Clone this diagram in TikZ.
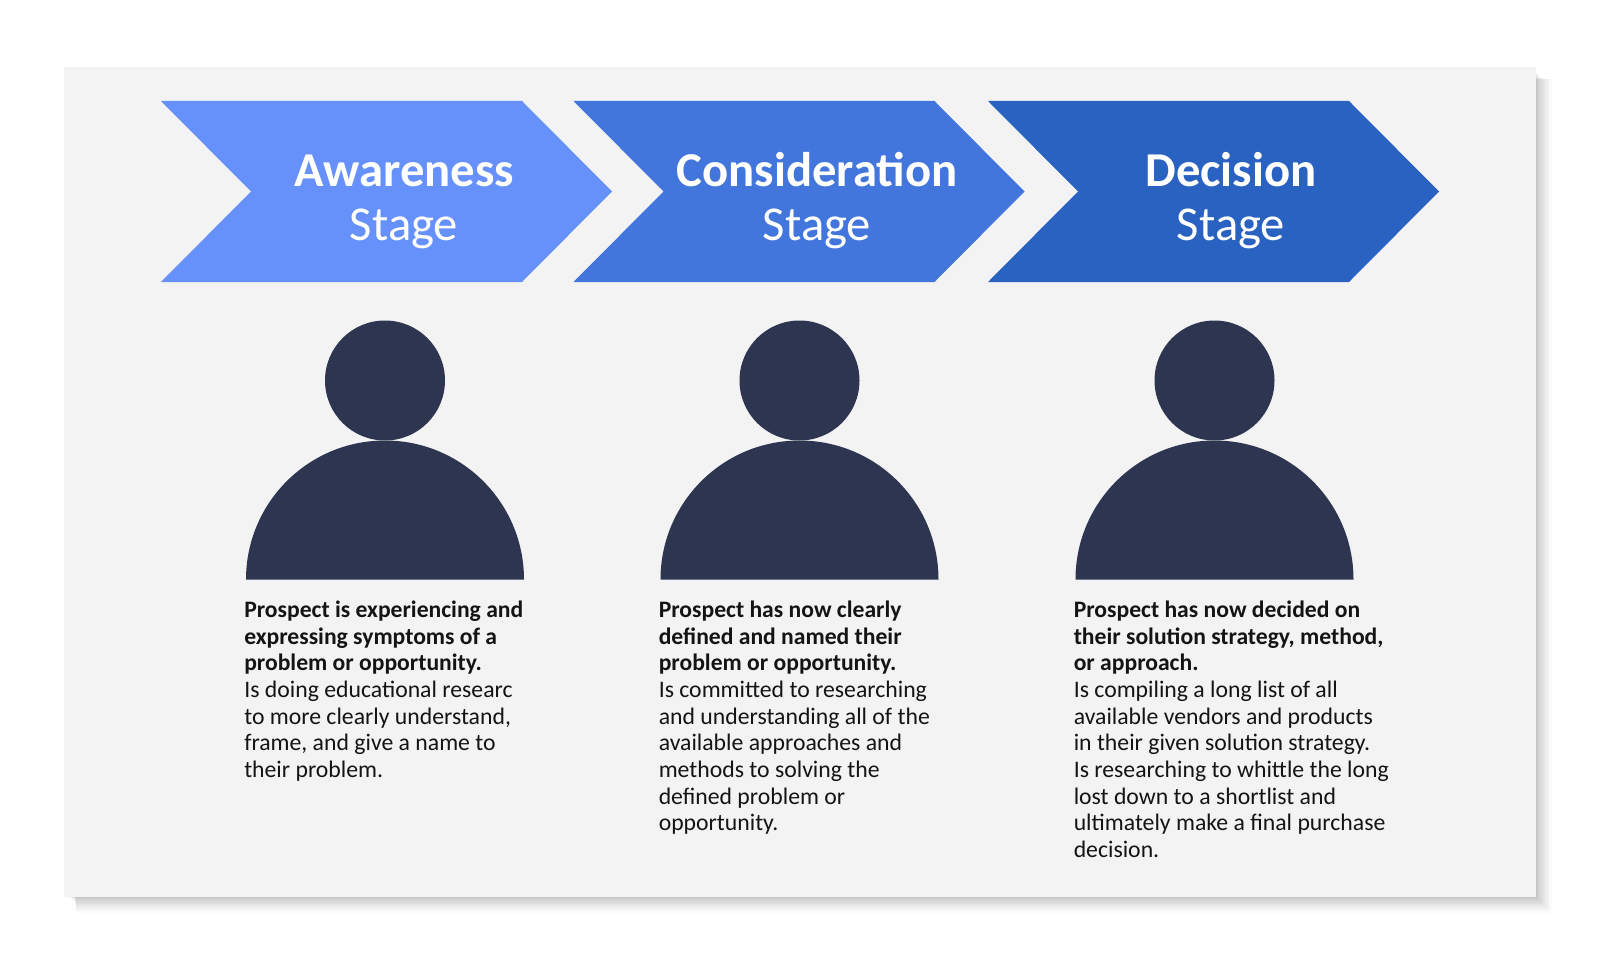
\documentclass[tikz,border=0pt]{standalone}
\usepackage{fontspec}
\setmainfont{Carlito}
\usepackage{tikz}
\definecolor{panelgrey}{HTML}{F3F3F3}
\definecolor{stagea}{HTML}{6691FB}
\definecolor{stageb}{HTML}{4376DD}
\definecolor{stagec}{HTML}{2962C0}
\definecolor{personblue}{HTML}{2D3550}
\definecolor{copyblack}{HTML}{141414}
\newcommand\lead[1]{{\fontsize{17.72pt}{20pt}\selectfont\bfseries #1}}
\tikzset{
    head/.style={circle, fill=personblue, minimum size=90pt, inner sep=0pt},
    stagetitle/.style={text=white, align=center, inner sep=0pt, font=\fontsize{36.5pt}{40.2pt}\selectfont},
    copy/.style={anchor=north west, align=left, inner sep=0pt, text=copyblack, font=\fontsize{17.8pt}{20pt}\selectfont},
}

\begin{document}
\begin{tikzpicture}[x=0.75pt, y=-0.75pt]
    \useasboundingbox (0,0) rectangle (1600,963);

    % Shadow
    \foreach \s in {0,...,20} {
        \pgfmathsetmacro\shgrow{.04*(20-\s)*(20-\s)}
        \fill[black, opacity=.015] (76-.03*\s*\s,79-.03*\s*\s)
            rectangle (1536+\shgrow,897+\shgrow);
    }
    % Panel
    \fill[panelgrey] (64,67) rectangle (1536,897);

    % Chevrons
    \foreach \name/\x/\col in {a/161/stagea, b/573.5/stageb, c/988/stagec} {
        \fill[\col] (\x,101) -- (\x+361,101) -- (\x+451,191.5) -- (\x+361,282)
            -- (\x,282) -- (\x+90,191.5) -- cycle;
    }
    \node[stagetitle] (awareness) at (404,203) {\strut\textbf{Awareness}\\\strut Stage};
    \node[stagetitle] (consideration) at (817,203) {\strut\textbf{Consideration}\\\strut Stage};
    \node[stagetitle] (decision) at (1231,203) {\strut\textbf{Decision}\\\strut Stage};

    % Persons
    \foreach \name/\x in {a/385, b/799.5, c/1214.5} {
        \node[head] (head\name) at (\x,380.5) {};
        \fill[personblue] (\x-139,579.5) arc (180:360:139) -- cycle;
    }

    % Copy
    \node[copy] (copya) at (244,600.5) {\lead{Prospect is experiencing and}\\
        \lead{expressing symptoms of a}\\
        \lead{problem or opportunity.}\\
        Is doing educational researc\\
        to more clearly understand,\\
        frame, and give a name to\\
        their problem.};
    \node[copy] (copyb) at (658.5,600.5) {\lead{Prospect has now clearly}\\
        \lead{defined and named their}\\
        \lead{problem or opportunity.}\\
        Is committed to researching\\
        and understanding all of the\\
        available approaches and\\
        methods to solving the\\
        defined problem or\\
        opportunity.};
    \node[copy] (copyc) at (1073.5,600.5) {\lead{Prospect has now decided on}\\
        \lead{their solution strategy, method,}\\
        \lead{or approach.}\\
        Is compiling a long list of all\\
        available vendors and products\\
        in their given solution strategy.\\
        Is researching to whittle the long\\
        lost down to a shortlist and\\
        ultimately make a final purchase\\
        decision.};
\end{tikzpicture}
\end{document}
